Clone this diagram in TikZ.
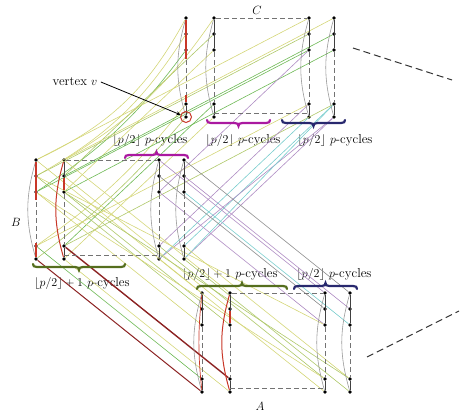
\documentclass[tikz,border=0pt]{standalone}
\usepackage{amssymb}
\usepackage{amsmath}
\usepackage{tikz}
\usetikzlibrary{positioning, arrows}
\definecolor{lineYellow}{RGB}{212,214,120}
\definecolor{lineGreen}{RGB}{110,185,85}
\definecolor{lineOlive}{RGB}{175,200,105}
\definecolor{lineLilac}{RGB}{175,140,195}
\definecolor{lineCyan}{RGB}{120,205,205}
\definecolor{lineBrown}{RGB}{140,35,35}
\definecolor{cycleRed}{RGB}{200,55,40}
\definecolor{braceMagenta}{RGB}{170,25,160}
\definecolor{braceNavy}{RGB}{40,40,110}
\definecolor{braceOlive}{RGB}{85,110,30}
\tikzset{
    >=stealth, % makes the arrow heads bold
    every node/.append style={font=\fontsize{13}{15}\selectfont}, % size of all labels
}
% brace: colour, left x, right x, y of the ends, 1 = tip down / -1 = tip up
\newcommand{\cycleBrace}[5]{%
    \draw[line width=2.2pt, #1, line cap=round]
    (#2,#4) .. controls (#2,{#4+2*#5}) and ({#2+1},{#4+3*#5}) .. ({#2+4},{#4+3*#5})
    -- ({(#2+#3)/2-4},{#4+3*#5}) .. controls ({(#2+#3)/2-1},{#4+3*#5}) and ({(#2+#3)/2},{#4+4*#5}) .. ({(#2+#3)/2},{#4+6*#5})
    .. controls ({(#2+#3)/2},{#4+4*#5}) and ({(#2+#3)/2+1},{#4+3*#5}) .. ({(#2+#3)/2+4},{#4+3*#5})
    -- ({#3-4},{#4+3*#5}) .. controls ({#3-1},{#4+3*#5}) and (#3,{#4+2*#5}) .. (#3,#4);
}

\begin{document}
\begin{tikzpicture}[
        x=1pt, y=-1pt,
        styleDot/.style={circle, fill=black, inner sep=0pt, minimum size=3.8pt},
        styleNear/.style={styleDot, node distance=16pt, below of=#1},
        styleFar/.style={styleDot, node distance=54pt, below of=#1},
        styleLast/.style={styleDot, node distance=13pt, below of=#1},
        styleSide/.style={styleDot, node distance=28pt, right of=#1},
        styleAcross/.style={styleDot, node distance=95pt, right of=#1},
        styleNext/.style={styleDot, node distance=25pt, right of=#1},
        styleCol/.style={line width=1pt, black!75},
        styleGap/.style={line width=0.9pt, black!55, dash pattern=on 5pt off 3pt},
        styleArc/.style={line width=0.6pt, black!40, bend right=16},
        styleRed/.style={line width=1.3pt, cycleRed},
        styleThin/.style={line width=0.6pt},
    ]
    \useasboundingbox (0,0) rectangle (474,413);

    % block C
    \node[styleDot] (c11) at (186,18) {};
    \node[styleNear=c11] (c12) {};
    \node[styleNear=c12] (c13) {};
    \node[styleFar=c13] (c14) {};
    \node[styleLast=c14] (c15) {};
    \node[styleSide=c11] (c21) {};
    \node[styleNear=c21] (c22) {};
    \node[styleNear=c22] (c23) {};
    \node[styleFar=c23] (c24) {};
    \node[styleLast=c24] (c25) {};
    \node[styleAcross=c21] (c31) {};
    \node[styleNear=c31] (c32) {};
    \node[styleNear=c32] (c33) {};
    \node[styleFar=c33] (c34) {};
    \node[styleLast=c34] (c35) {};
    \node[styleNext=c31] (c41) {};
    \node[styleNear=c41] (c42) {};
    \node[styleNear=c42] (c43) {};
    \node[styleFar=c43] (c44) {};
    \node[styleLast=c44] (c45) {};

    % block B
    \node[styleDot] (b11) at (36,160) {};
    \node[styleNear=b11] (b12) {};
    \node[styleNear=b12] (b13) {};
    \node[styleFar=b13] (b14) {};
    \node[styleLast=b14] (b15) {};
    \node[styleSide=b11] (b21) {};
    \node[styleNear=b21] (b22) {};
    \node[styleNear=b22] (b23) {};
    \node[styleFar=b23] (b24) {};
    \node[styleLast=b24] (b25) {};
    \node[styleAcross=b21] (b31) {};
    \node[styleNear=b31] (b32) {};
    \node[styleNear=b32] (b33) {};
    \node[styleFar=b33] (b34) {};
    \node[styleLast=b34] (b35) {};
    \node[styleNext=b31] (b41) {};
    \node[styleNear=b41] (b42) {};
    \node[styleNear=b42] (b43) {};
    \node[styleFar=b43] (b44) {};
    \node[styleLast=b44] (b45) {};

    % block A
    \node[styleDot] (a11) at (202,293) {};
    \node[styleNear=a11] (a12) {};
    \node[styleNear=a12] (a13) {};
    \node[styleFar=a13] (a14) {};
    \node[styleLast=a14] (a15) {};
    \node[styleSide=a11] (a21) {};
    \node[styleNear=a21] (a22) {};
    \node[styleNear=a22] (a23) {};
    \node[styleFar=a23] (a24) {};
    \node[styleLast=a24] (a25) {};
    \node[styleAcross=a21] (a31) {};
    \node[styleNear=a31] (a32) {};
    \node[styleNear=a32] (a33) {};
    \node[styleFar=a33] (a34) {};
    \node[styleLast=a34] (a35) {};
    \node[styleNext=a31] (a41) {};
    \node[styleNear=a41] (a42) {};
    \node[styleNear=a42] (a43) {};
    \node[styleFar=a43] (a44) {};
    \node[styleLast=a44] (a45) {};

    % labels
    \node (labC) at (257,10) {$C$};
    \node (labB) at (16,222) {$B$};
    \node (labA) at (260,406) {$A$};
    \node (vlabel) at (75,82) {vertex $v$};
    \node (cycB1) at (150,140) {$\lfloor p/2\rfloor$ $p$-cycles};
    \node (cycC1) at (243,140) {$\lfloor p/2\rfloor$ $p$-cycles};
    \node (cycC2) at (335,140) {$\lfloor p/2\rfloor$ $p$-cycles};
    \node (cycB2) at (82,283) {$\lfloor p/2\rfloor+1$ $p$-cycles};
    \node (cycA1) at (230,274) {$\lfloor p/2\rfloor+1$ $p$-cycles};
    \node (cycA2) at (334,274) {$\lfloor p/2\rfloor$ $p$-cycles};
    \coordinate (farC1) at (353,48);
    \coordinate (farC2) at (452,80);
    \coordinate (farA1) at (367,357);
    \coordinate (farA2) at (459,311);

    % matching edges between the blocks
    \draw[styleThin]
    (b11) edge[lineYellow, bend right=18] (c11)
    (b12) edge[lineYellow, bend right=14] (c12)
    (b13) edge[lineGreen, bend right=10] (c13)
    (b14) edge[lineYellow, bend right=8] (c14)
    (b15) edge[lineOlive, bend right=6] (c15)
    (b21) edge[lineYellow, bend right=12] (c21)
    (b22) edge[lineOlive] (c22)
    (b23) edge[lineYellow] (c23)
    (b24) edge[lineGreen] (c24)
    (b25) edge[lineYellow] (c25)
    (b11) edge[lineYellow] (c31)
    (b21) edge[lineYellow] (c41)
    (b12) edge[lineOlive] (c32)
    (b22) edge[lineGreen] (c42)
    (b13) edge[lineGreen] (c33)
    (b23) edge[lineGreen] (c43)
    (b14) edge[lineYellow] (c34)
    (b24) edge[lineOlive] (c44)
    (b33) edge[lineLilac] (c33)
    (b34) edge[lineLilac] (c34)
    (b35) edge[lineCyan] (c35)
    (b44) edge[lineCyan] (c44)
    (b45) edge[lineLilac] (c45)
    (b35) edge[lineLilac] (c45)
    (b45) edge[lineCyan] (c44)

    (b11) edge[lineYellow] (a11)
    (b12) edge[lineOlive] (a12)
    (b13) edge[lineYellow] (a13)
    (b14) edge[lineGreen] (a14)
    (b21) edge[lineYellow] (a21)
    (b22) edge[lineYellow] (a22)
    (b23) edge[lineOlive] (a23)
    (b25) edge[lineYellow] (a25)
    (b31) edge[lineLilac] (a31)
    (b32) edge[black!45] (a32)
    (b33) edge[lineLilac] (a33)
    (b34) edge[lineOlive] (a34)
    (b35) edge[lineYellow] (a35)
    (b41) edge[black!45] (a41)
    (b42) edge[lineLilac] (a42)
    (b43) edge[lineCyan] (a43)
    (b44) edge[lineYellow] (a44)
    (b45) edge[lineOlive] (a45)
    (b12) edge[lineYellow] (a33)
    (b13) edge[lineYellow] (a34)
    (b23) edge[lineOlive] (a44)
    (b15) edge[lineBrown, line width=1pt] (a15)
    (b24) edge[lineBrown, line width=1.4pt] (a24);

    % the cycles
    \draw[styleCol]
    (c11) edge (c13) (c14) edge (c15)
    (c21) edge (c23) (c24) edge (c25)
    (c31) edge (c33) (c34) edge (c35)
    (c41) edge (c43) (c44) edge (c45)
    (b11) edge (b13) (b14) edge (b15)
    (b21) edge (b23) (b24) edge (b25)
    (b31) edge (b33) (b34) edge (b35)
    (b41) edge (b43) (b44) edge (b45)
    (a11) edge (a13) (a14) edge (a15)
    (a21) edge (a23) (a24) edge (a25)
    (a31) edge (a33) (a34) edge (a35)
    (a41) edge (a43) (a44) edge (a45);
    \draw[styleGap]
    (c13) edge (c14) (c23) edge (c24) (c33) edge (c34) (c43) edge (c44)
    (b13) edge (b14) (b23) edge (b24) (b33) edge (b34) (b43) edge (b44)
    (a13) edge (a14) (a23) edge (a24) (a33) edge (a34) (a43) edge (a44)
    (c21) edge (c31) ([yshift=4pt]c25.center) edge ([yshift=4pt]c35.center)
    (b21) edge (b31) ([yshift=4pt]b25.center) edge ([yshift=4pt]b35.center)
    (a21) edge (a31) ([yshift=4pt]a25.center) edge ([yshift=4pt]a35.center);
    \draw
    (c11) edge[styleArc] (c15) (c21) edge[styleArc] (c25)
    (c31) edge[styleArc] (c35) (c41) edge[styleArc] (c45)
    (b11) edge[styleArc] (b15) (b31) edge[styleArc] (b35)
    (b41) edge[styleArc] (b45) (a11) edge[styleArc] (a15)
    (a31) edge[styleArc] (a35) (a41) edge[styleArc] (a45);

    % the cycle through v
    \draw[styleRed]
    (c11) -- ([yshift=-9pt]c13.center)
    ([yshift=9pt]c14.center) -- (c14)
    (b11) -- ([yshift=-8pt]b13.center)
    ([yshift=3pt]b14.center) -- (b15)
    (b22) -- (b23)
    (a22) -- (a23);
    \draw[styleRed, line width=1pt]
    (b21) edge[bend right=16] (b25)
    (a21) edge[bend right=16] (a25);
    \draw[cycleRed, line width=0.7pt] (a11) edge[bend right=6] (a15);
    \node[circle, draw=cycleRed, line width=1pt, minimum size=11pt] (vring) at (c15) {};
    \draw[->, line width=0.8pt] (vlabel.east) -- (vring);

    % braces
    \cycleBrace{braceMagenta}{207}{270}{120}{1}
    \cycleBrace{braceNavy}{282}{345}{120}{1}
    \cycleBrace{braceMagenta}{125}{188}{158}{-1}
    \cycleBrace{braceOlive}{33}{125}{264}{1}
    \cycleBrace{braceOlive}{197}{287}{289}{-1}
    \cycleBrace{braceNavy}{294}{357}{289}{-1}

    % more copies of the gadget
    \draw[line width=1pt, black!80, dash pattern=on 7pt off 4pt]
    (farC1) edge (farC2)
    (farA1) edge (farA2);
\end{tikzpicture}
\end{document}
